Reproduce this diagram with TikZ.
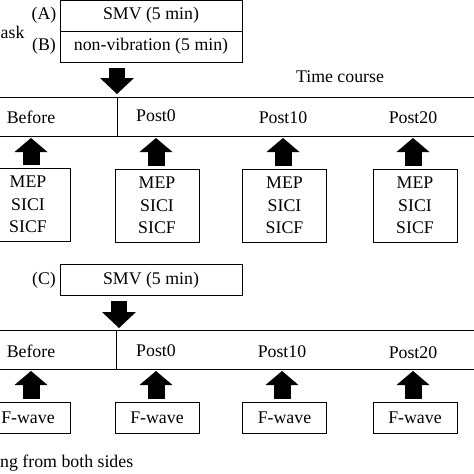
\documentclass[tikz,border=0pt]{standalone}
\usepackage{fontspec}
\setmainfont{Liberation Serif}
\usetikzlibrary{arrows.meta}
\tikzstyle{txt}=[inner sep=0pt, font=\fontsize{17.8}{22.5}\selectfont]
\tikzstyle{cond}=[draw, line width=1pt, minimum width=182pt, minimum height=31pt, inner sep=0pt, font=\fontsize{17.8}{22.5}\selectfont]
\tikzstyle{meas}=[draw, line width=1pt, minimum width=84pt, minimum height=73pt, inner sep=0pt, align=center, font=\fontsize{17.8}{22.5}\selectfont]
\tikzstyle{fwave}=[draw, line width=1pt, minimum width=84pt, minimum height=31pt, inner sep=0pt, font=\fontsize{17.8}{22.5}\selectfont]
\tikzstyle{bigup}=[line width=17pt, -{Triangle[width=33pt, length=14pt, line width=0pt]}, shorten <=3pt, shorten >=2pt]
\tikzstyle{bigdown}=[line width=16pt, -{Triangle[width=34pt, length=16pt, line width=0pt]}, shorten <=5pt, shorten >=3pt]

\begin{document}
\begin{tikzpicture}[x=1pt, y=-1pt]
\useasboundingbox (0,0) rectangle (474,474);

\node[cond] at (151, 15.5) (smvA) {SMV (5 min)};
\node[cond] at (151, 46.5) (nonvib) {non-vibration (5 min)};
\node[txt] at (44, 15) (labA) {(A)};
\node[txt] at (44, 46) (labB) {(B)};
\node[txt, anchor=base west] at (0.5, 38) (task) {ask};
\node[txt, anchor=base] at (340, 82) (course) {Time course};

\coordinate (topA) at (0, 97);
\coordinate (botA) at (0, 136);
\coordinate (divA) at (117, 97);
\draw[line width=1pt] (topA) -- ++(474, 0);
\draw[line width=1pt] (botA) -- ++(474, 0);
\draw[line width=1pt] (divA) -- (divA |- botA);
\draw[bigdown] (nonvib.south -| divA) -- (divA);

\node[txt, anchor=base] at (31, 123) (beforeA) {Before};
\node[txt, anchor=base] at (156, 121) (post0A) {Post0};
\node[txt, anchor=base] at (283, 123) (post10A) {Post10};
\node[txt, anchor=base] at (413, 123) (post20A) {Post20};

\node[meas] at (28, 204.5) (mep1) {MEP\\SICI\\SICF};
\node[meas] at (157, 205.5) (mep2) {MEP\\SICI\\SICF};
\node[meas] at (284.5, 205.5) (mep3) {MEP\\SICI\\SICF};
\node[meas] at (415, 205.5) (mep4) {MEP\\SICI\\SICF};
\draw[bigup] (beforeA |- mep1.north) -- (beforeA |- botA);
\draw[bigup] (post0A |- mep2.north) -- (post0A |- botA);
\draw[bigup] (post10A |- mep3.north) -- (post10A |- botA);
\draw[bigup] (post20A |- mep4.north) -- (post20A |- botA);

\node[cond] at (151, 280) (smvC) {SMV (5 min)};
\node[txt] at (44, 280) (labC) {(C)};

\coordinate (topC) at (0, 330);
\coordinate (botC) at (0, 369);
\coordinate (divC) at (116, 330);
\draw[line width=1pt] (topC) -- ++(474, 0);
\draw[line width=1pt] (botC) -- ++(474, 0);
\draw[line width=1pt] (divC) -- (divC |- botC);
\draw[bigdown, shorten >=2pt] ([xshift=3pt]smvC.south -| divC) -- ([xshift=3pt]divC);

\node[txt, anchor=base] at (31, 357) (beforeC) {Before};
\node[txt, anchor=base] at (156, 356) (post0C) {Post0};
\node[txt, anchor=base] at (282, 357) (post10C) {Post10};
\node[txt, anchor=base] at (413, 358) (post20C) {Post20};

\node[fwave] at (28, 417.5) (fw1) {F-wave};
\node[fwave] at (157, 417.5) (fw2) {F-wave};
\node[fwave] at (284.5, 417.5) (fw3) {F-wave};
\node[fwave] at (415, 417.5) (fw4) {F-wave};
\draw[bigup] (beforeC |- fw1.north) -- (beforeC |- botC);
\draw[bigup] (post0C |- fw2.north) -- (post0C |- botC);
\draw[bigup] (post10C |- fw3.north) -- (post10C |- botC);
\draw[bigup] (post20C |- fw4.north) -- (post20C |- botC);

\node[txt, anchor=base west] at (0, 467) (sides) {ng from both sides};

\end{tikzpicture}
\end{document}
